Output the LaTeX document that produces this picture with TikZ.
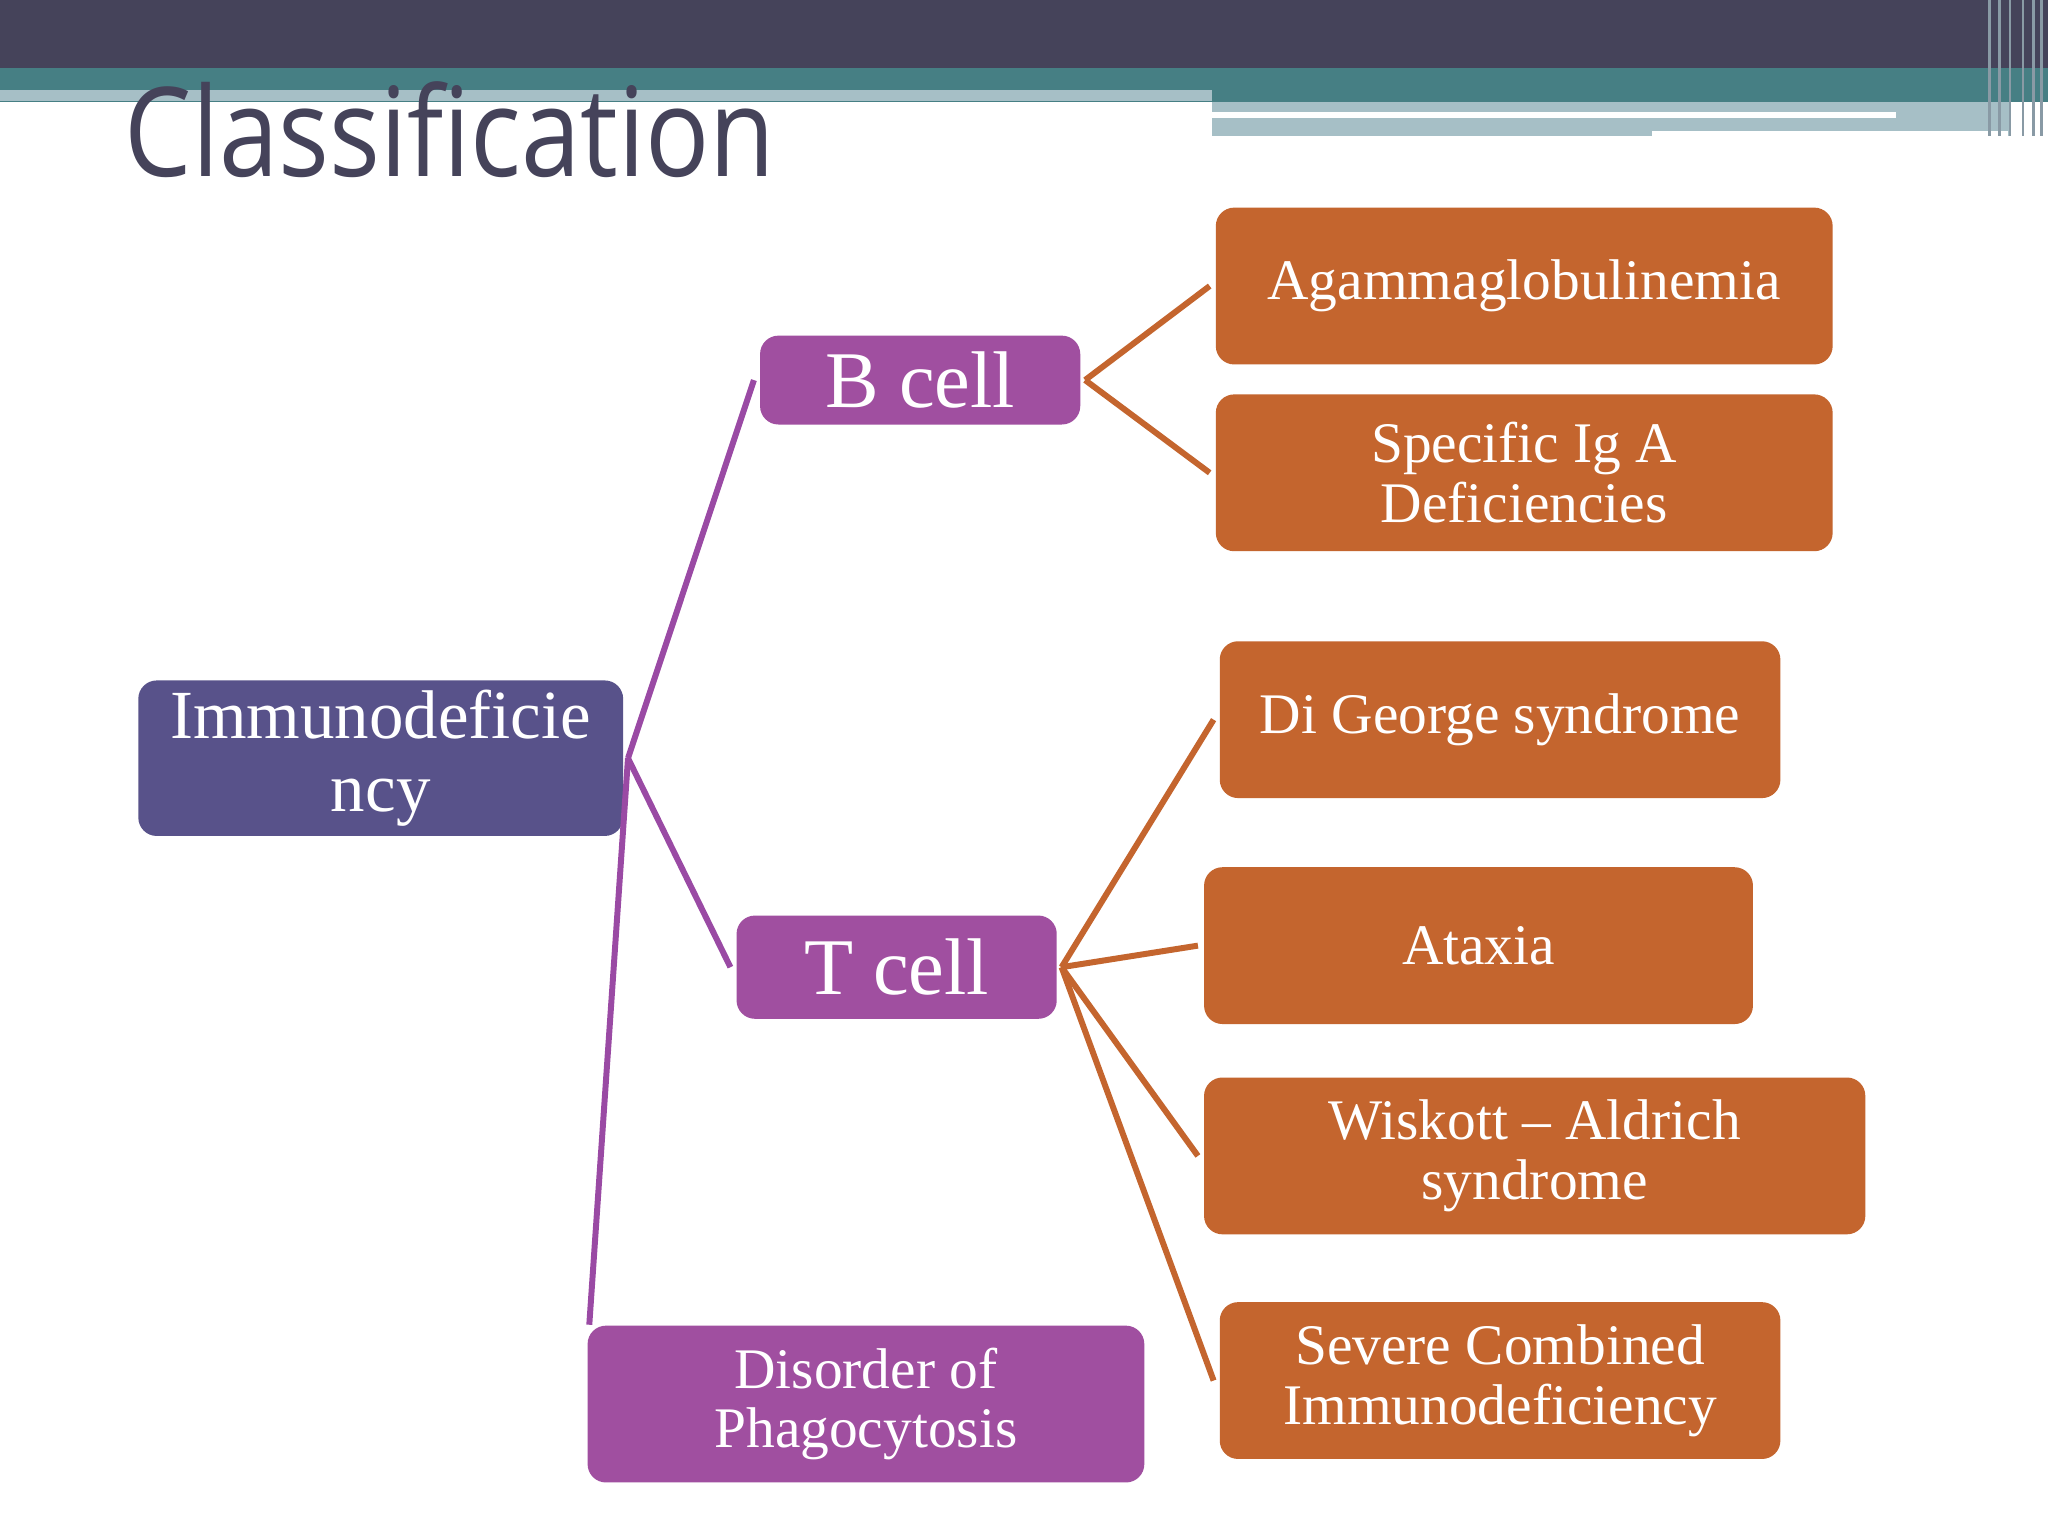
\documentclass[tikz,border=0pt]{standalone}
\usepackage{fontspec}
\setmainfont{Liberation Serif}
\newfontfamily\titlefont{Open Sans}
\begin{document}
\begin{tikzpicture}[x=0.01cm,y=-0.01cm,
 box/.style={rounded corners=4pt,inner sep=0pt,text=white,align=center},
 pbox/.style={box,fill=purpbox},
 obox/.style={box,fill=orbox,font=\fontsize{12.5}{13}\selectfont},
 pl/.style={draw=purpline,line width=1.3pt},
 ol/.style={draw=orbox,line width=1.3pt}]
\definecolor{purpbox}{HTML}{A04FA0}
\definecolor{purpline}{HTML}{9A4AA4}
\definecolor{orbox}{HTML}{C4652E}
\definecolor{navy}{HTML}{58528A}
\definecolor{hdark}{HTML}{45435A}
\definecolor{hteal}{HTML}{467F84}
\definecolor{hlight}{HTML}{A6BFC6}
\useasboundingbox (0,0) rectangle (1568,1176);
\fill[white] (0,0) rectangle (1568,1176);
% header
\fill[hdark] (0,0) rectangle (1568,52);
\fill[hteal] (0,52) rectangle (1568,78);
\fill[hlight] (0,69) rectangle (928,77);
\fill[hlight] (928,78) rectangle (1540,104);
\fill[white] (928,86) rectangle (1452,90);
\fill[white] (1265,100) rectangle (1537,106);
\foreach \x in {1522,1530,1538,1548,1556,1562}{\fill[hlight!70!hdark] (\x,0) rectangle (\x+2,104);}
\node[anchor=south west,inner sep=0pt,text=hdark,font=\titlefont\fontsize{27}{30}\selectfont,xscale=0.86] (title) at (95,137) {Classification};
% nodes
\node[box,fill=navy,minimum width=3.71cm,minimum height=1.19cm,font=\fontsize{15}{16}\selectfont] (imm) at (291.5,580.5) {Immunodeficie\\ncy};
\node[pbox,minimum width=2.45cm,minimum height=0.68cm,font=\fontsize{17.5}{18}\selectfont] (b) at (704.5,291) {B cell};
\node[pbox,minimum width=2.45cm,minimum height=0.79cm,font=\fontsize{17.5}{18}\selectfont] (t) at (686.5,740.5) {T cell};
\node[pbox,minimum width=4.26cm,minimum height=1.2cm,font=\fontsize{12.5}{13}\selectfont] (d) at (663,1075) {Disorder of\\Phagocytosis};
\node[obox,minimum width=4.72cm,minimum height=1.2cm] (a1) at (1167,219) {Agammaglobulinemia};
\node[obox,minimum width=4.72cm,minimum height=1.2cm] (a2) at (1167,362) {Specific Ig A\\Deficiencies};
\node[obox,minimum width=4.29cm,minimum height=1.2cm] (c1) at (1148.5,551) {Di George syndrome};
\node[obox,minimum width=4.2cm,minimum height=1.2cm] (c2) at (1132,724) {Ataxia};
\node[obox,minimum width=5.06cm,minimum height=1.2cm] (c3) at (1175,885) {Wiskott -- Aldrich\\syndrome};
\node[obox,minimum width=4.29cm,minimum height=1.2cm] (c4) at (1148.5,1057) {Severe Combined\\Immunodeficiency};
% connectors
\coordinate (ir) at ([xshift=0.03cm]imm.east);
\coordinate (br) at ([xshift=0.03cm]b.east);
\coordinate (tr) at ([xshift=0.03cm]t.east);
\draw[pl] (ir) -- ([xshift=-0.04cm]b.west);
\draw[pl] (ir) -- ([xshift=-0.04cm]t.west);
\draw[pl] (ir) -- ([xshift=0.02cm]d.north west);
\draw[ol] (br) -- ([xshift=-0.04cm]a1.west);
\draw[ol] (br) -- ([xshift=-0.04cm]a2.west);
\draw[ol] (tr) -- ([xshift=-0.04cm]c1.west);
\draw[ol] (tr) -- ([xshift=-0.04cm]c2.west);
\draw[ol] (tr) -- ([xshift=-0.04cm]c3.west);
\draw[ol] (tr) -- ([xshift=-0.04cm]c4.west);
\end{tikzpicture}
\end{document}
